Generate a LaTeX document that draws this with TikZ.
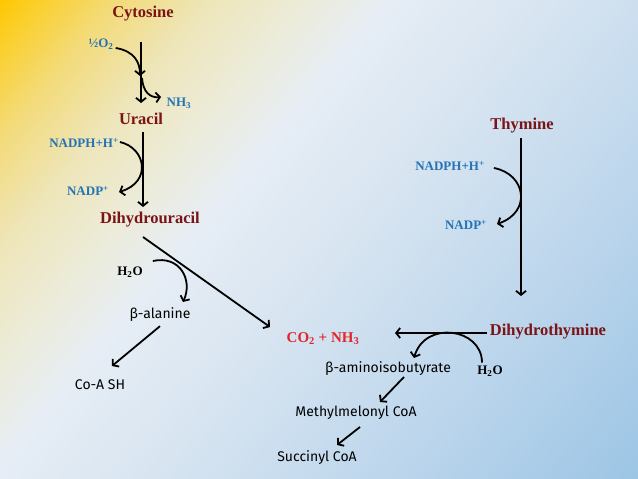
\documentclass[tikz,border=0pt]{standalone}
\usepackage{fontspec}
\setmainfont{Liberation Serif}
\newfontfamily\comic{Fira Sans}
\usetikzlibrary{arrows.meta}
\definecolor{dred}{HTML}{7B1416}
\definecolor{lblue}{HTML}{2373B5}
\definecolor{bred}{HTML}{E3262B}
\definecolor{g0}{HTML}{FFC700}
\definecolor{g1}{HTML}{FBCF2A}
\definecolor{g2}{HTML}{F3DB7A}
\definecolor{g3}{HTML}{EEE5B8}
\definecolor{g4}{HTML}{ECECDC}
\definecolor{g5}{HTML}{E6EDF5}
\definecolor{g6}{HTML}{D8E5F1}
\definecolor{g7}{HTML}{BDD6EC}
\definecolor{g8}{HTML}{9CC5E5}
\pgfdeclarehorizontalshading{bgshade}{100bp}{color(0bp)=(g0); color(3.75bp)=(g1); color(11.25bp)=(g2); color(20bp)=(g3); color(30bp)=(g4); color(37.5bp)=(g5); color(52.5bp)=(g6); color(75bp)=(g7); color(100bp)=(g8)}
\tikzset{
  title/.style={text=dred, font=\fontsize{16.5}{18}\selectfont\bfseries, inner sep=1pt},
  cof/.style={text=lblue, font=\fontsize{13}{15}\selectfont\bfseries, inner sep=1pt},
  wat/.style={text=black, font=\fontsize{13}{15}\selectfont\bfseries, inner sep=1pt},
  prod/.style={text=black, font=\fontsize{14}{16}\selectfont\comic, inner sep=1pt},
  arr/.style={draw=black, line width=1.8pt, -{Straight Barb[length=4pt,width=10pt,line width=1.8pt]}},
}
\begin{document}
\begin{tikzpicture}[x=1pt,y=-1pt]
\useasboundingbox (0,0) rectangle (638,479);
% background
\begin{scope}
\clip (0,0) rectangle (638,479);
\node[inner sep=0pt, outer sep=0pt, rotate=-40, xscale=7.95, yscale=8, transform shape] (bg) at (319,240) {\pgfuseshading{bgshade}};
\end{scope}

% nodes
\node[title] (cyt) at (143,14) {Cytosine};
\node[cof] (o2) at (101,44) {½O\textsubscript{2}};
\node[cof] (nh3) at (179,103) {NH\textsubscript{3}};
\node[title] (ura) at (141,119) {Uracil};
\node[cof] (nadph1) at (84,143) {NADPH+H\textsuperscript{+}};
\node[cof] (nadp1) at (88,191) {NADP\textsuperscript{+}};
\node[title] (dhu) at (150,220) {Dihydrouracil};
\node[wat] (h2o1) at (130,272) {H\textsubscript{2}O};
\node[prod] (bala) at (160,315) {β-alanine};
\node[prod] (coa) at (100,385) {Co-A SH};
\node[text=bred, font=\fontsize{15}{17}\selectfont\bfseries, inner sep=1pt] (co2) at (323,339) {CO\textsubscript{2} + NH\textsubscript{3}};

\node[title] (thy) at (522,126) {Thymine};
\node[cof] (nadph2) at (450,166) {NADPH+H\textsuperscript{+}};
\node[cof] (nadp2) at (466,225) {NADP\textsuperscript{+}};
\node[title] (dht) at (548,332) {Dihydrothymine};
\node[wat] (h2o2) at (490,371) {H\textsubscript{2}O};
\node[prod] (baib) at (388,369) {β-aminoisobutyrate};
\node[prod] (mmc) at (356,413) {Methylmelonyl CoA};
\node[prod] (sca) at (317,458) {Succinyl CoA};

% connector end points
\coordinate (c1) at (141,42);
\coordinate (c2) at (141,103);
\coordinate (u1) at (143,132);
\coordinate (u2) at (143,207);
\coordinate (d1) at (143,237);
\coordinate (d2) at (270,327);
\coordinate (t1) at (521,138);
\coordinate (t2) at (521,296);
\coordinate (h1) at (487,333);
\coordinate (h2) at (395,333);

% main arrows
\draw[arr] (c1) -- (c2);
\draw[arr] (u1) -- (u2);
\draw[arr] (d1) -- (d2);
\draw[arr] (t1) -- (t2);
\draw[arr] (h1) -- (h2);
\draw[arr] (bala.south) ++(0,3) -- (112,366);
\draw[arr] (404,377) -- (380,402);
\draw[arr] (360,427) -- (337,445);

% side curves
\draw[arr] (o2.east) ++(1,4) .. controls (134,51) and (140,62) .. (140,76);
\draw[arr] (142,78) .. controls (143,92) and (150,98) .. (161,97);
\draw[arr] (nadph1.east) ++(0,-1) .. controls (146,148) and (152,182) .. (119,192);
\draw[arr] (nadph2.east) ++(8,2) .. controls (526,174) and (532,212) .. (497,224);
\draw[arr] (h2o1.east) ++(9,-11) .. controls (180,255) and (193,280) .. (183,302);
\draw[arr] (h2o2.north) ++(-8,-2) .. controls (482,328) and (425,320) .. (414,358);
\end{tikzpicture}
\end{document}
